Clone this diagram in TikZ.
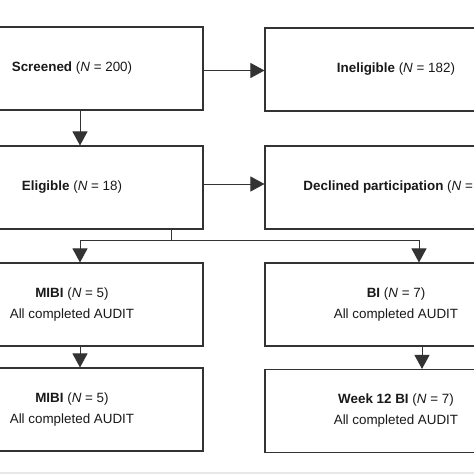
\documentclass[tikz,border=0pt]{standalone}
\usepackage{fontspec}
\setmainfont{Liberation Sans}
\usetikzlibrary{arrows.meta,positioning,calc}
\definecolor{boxline}{HTML}{333333}
\definecolor{striprule}{HTML}{E8E8E8}
\tikzset{
  flowbox/.style={draw=boxline, line width=1.1pt, fill=white,
                  minimum width=262pt, minimum height=83pt, inner sep=3pt,
                  align=center, text=black!90,
                  font=\fontsize{13.4}{21}\selectfont},
  flowline/.style={draw=boxline, line width=1pt},
  flowarr/.style={flowline, -{Triangle[length=14pt,width=15pt]}},
}

\begin{document}
\begin{tikzpicture}[x=1pt,y=1pt]
\useasboundingbox (0,0) rectangle (474,-474);
\fill[striprule] (0,-472) rectangle (474,-474);
% left column
\node[flowbox] (screened) at (72,-68.5) {\textbf{Screened} (\textit{N} = 200)};
\node[flowbox] (eligible) at (72,-187.5) {\textbf{Eligible} (\textit{N} = 18)};
\node[flowbox] (mibi) at (72,-304.5) {\textbf{MIBI} (\textit{N} = 5)\\All completed AUDIT};
\node[flowbox] (mibifollow) at (72,-409.5) {\textbf{MIBI} (\textit{N} = 5)\\All completed AUDIT};
% right column
\node[flowbox] (ineligible) at (396,-69.5) {\textbf{Ineligible} (\textit{N} = 182)};
\node[flowbox] (declined) at (396,-187.5) {\textbf{Declined participation} (\textit{N} = 6)};
\node[flowbox] (bi) at (396,-304.5) {\textbf{BI} (\textit{N} = 7)\\All completed AUDIT};
\node[flowbox] (week) at (396,-411) {\textbf{Week 12 BI} (\textit{N} = 7)\\All completed AUDIT};
\coordinate (split) at (171,-240);
% connectors
\draw[flowarr] ([yshift=-2pt]screened.east) -- ([yshift=-2pt]screened.east -| ineligible.west);
\draw[flowarr] ([xshift=8pt]screened.south) -- ([xshift=8pt]eligible.north);
\draw[flowarr] ([yshift=3.5pt]eligible.east) -- ([yshift=3.5pt]eligible.east -| declined.west);
\draw[flowline] (eligible.south -| split) -- (split);
\draw[flowarr] (split) -| ([xshift=8pt]mibi.north);
\draw[flowarr] (split) -| ([xshift=23pt]bi.north);
\draw[flowarr] ([xshift=8pt]mibi.south) -- ([xshift=8pt]mibifollow.north);
\draw[flowarr] ([xshift=26pt]bi.south) -- ([xshift=26pt]week.north);
\end{tikzpicture}
\end{document}
